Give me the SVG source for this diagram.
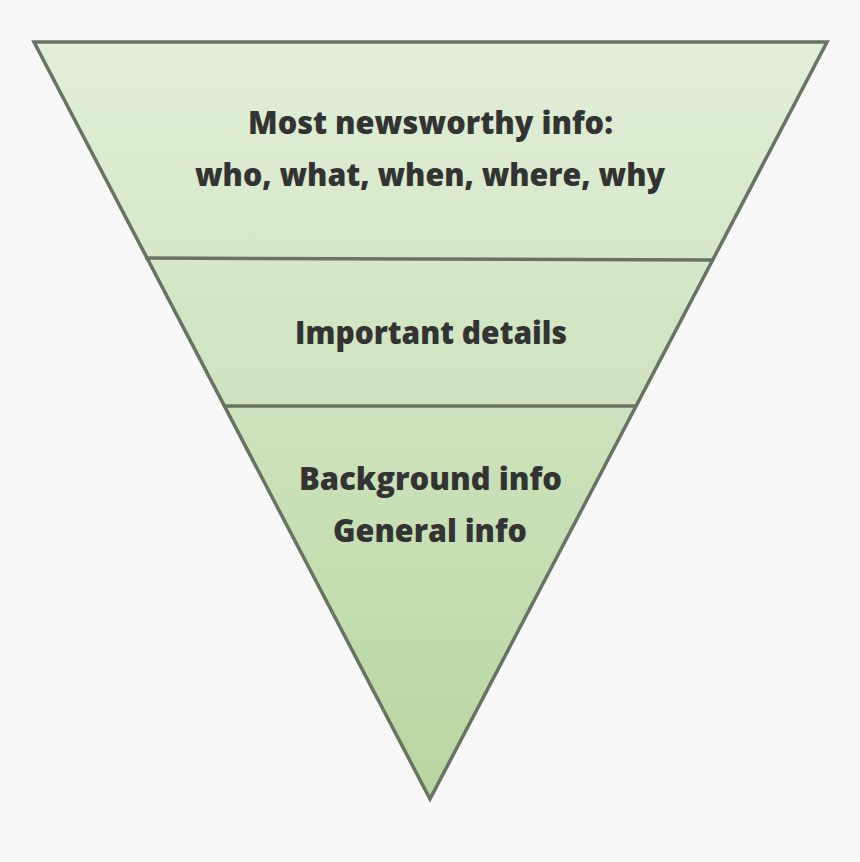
<svg xmlns="http://www.w3.org/2000/svg" width="860" height="862" viewBox="0 0 860 862">
<style>
.lbl{font-family:"Open Sans",Lato,"Liberation Sans",sans-serif;font-weight:800;font-size:31px;fill:#333333;text-anchor:middle}
.edge{stroke:#687364;stroke-width:3.5;fill:none;stroke-linecap:butt}
</style>
<defs>
<linearGradient id="g" x1="0" y1="42" x2="0" y2="800" gradientUnits="userSpaceOnUse">
<stop offset="0" stop-color="#e1efd8"/>
<stop offset="1" stop-color="#b8d6a0"/>
</linearGradient>
</defs>
<rect width="860" height="862" fill="#f8f8f8"/>
<g id="triangle">
<polygon points="34,42 827,42 430,799" fill="url(#g)" stroke="#687364" stroke-width="3.5" stroke-linejoin="miter"/>
</g>
<g id="dividers">
<line class="edge" x1="145" y1="258" x2="713" y2="260"/>
<line class="edge" x1="224" y1="406" x2="637" y2="406"/>
</g>
<g id="tier1">
<text class="lbl" x="430.5" y="134" textLength="365" lengthAdjust="spacingAndGlyphs">Most newsworthy info:</text>
<text class="lbl" x="430" y="186" textLength="470" lengthAdjust="spacingAndGlyphs">who, what, when, where, why</text>
</g>
<g id="tier2">
<text class="lbl" x="431" y="344" textLength="272" lengthAdjust="spacingAndGlyphs">Important details</text>
</g>
<g id="tier3">
<text class="lbl" x="430.5" y="490" textLength="263" lengthAdjust="spacingAndGlyphs">Background info</text>
<text class="lbl" x="430" y="542" textLength="194" lengthAdjust="spacingAndGlyphs">General info</text>
</g>
</svg>
